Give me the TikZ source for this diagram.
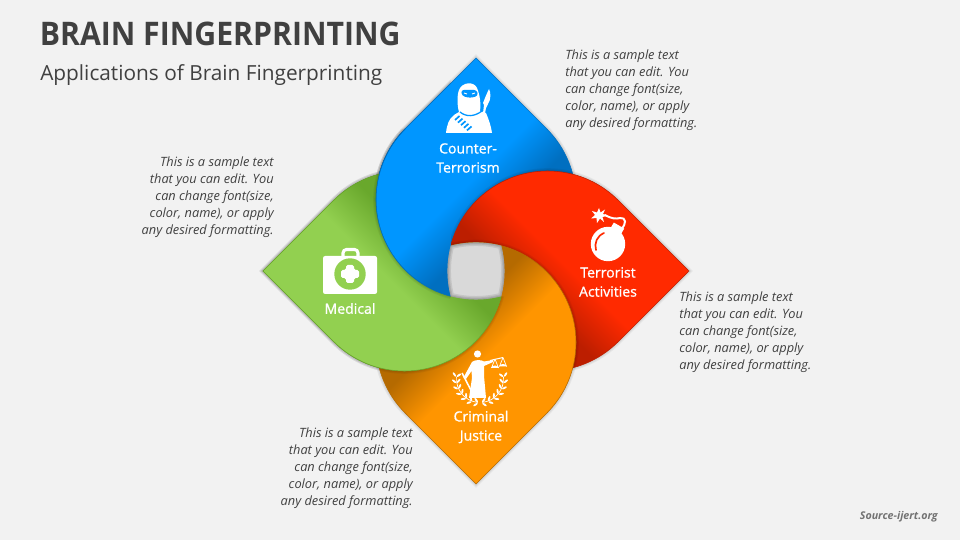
\documentclass[tikz,border=0pt]{standalone}
\usepackage{fontspec}
\usepackage{tikz}
\usepackage{xcolor}
\setmainfont{Open Sans}
\newfontfamily\titlefont[FakeStretch=0.93]{Open Sans}
\newfontfamily\labelfont[FakeBold=1]{Open Sans}
\definecolor{pagebg}{HTML}{F2F2F2}
\definecolor{inktext}{HTML}{404040}
\definecolor{blueA}{HTML}{0096FF}
\definecolor{blueB}{HTML}{006FC0}
\definecolor{redA}{HTML}{FF2A00}
\definecolor{redB}{HTML}{BC1E00}
\definecolor{orangeA}{HTML}{FF9500}
\definecolor{orangeB}{HTML}{B56A00}
\definecolor{greenA}{HTML}{92D050}
\definecolor{greenB}{HTML}{69A82C}
\pgfdeclarehorizontalshading{blueshade}{100bp}{color(0bp)=(blueA); color(42bp)=(blueA); color(47.5bp)=(blueB); color(100bp)=(blueB)}
\pgfdeclarehorizontalshading{redshade}{100bp}{color(0bp)=(redA); color(42bp)=(redA); color(47.5bp)=(redB); color(100bp)=(redB)}
\pgfdeclarehorizontalshading{orangeshade}{100bp}{color(0bp)=(orangeA); color(42bp)=(orangeA); color(47.5bp)=(orangeB); color(100bp)=(orangeB)}
\pgfdeclarehorizontalshading{greenshade}{100bp}{color(0bp)=(greenA); color(42bp)=(greenA); color(47.5bp)=(greenB); color(100bp)=(greenB)}
\newcommand{\petaloutline}{(0,213) -- (70.7,142.2) arc[start angle=45,end angle=-225,radius=100] -- cycle}
\newcommand{\windowoutline}{(-25.3,25.3) arc[start angle=104.65,end angle=75.35,radius=100]
	arc[start angle=14.65,end angle=-14.65,radius=100]
	arc[start angle=-75.35,end angle=-104.65,radius=100]
	arc[start angle=-165.35,end angle=-194.65,radius=100] -- cycle}
% #1 rotation, #2 shading, #3 shading angle, #4 edge colour
\newcommand{\petal}[4]{
	\foreach \w in {4,2.5,1}
		\draw[shift={(476,269)},rotate=#1,black,opacity=0.05,line width=\w] \petaloutline;
	\begin{scope}
		\clip[shift={(476,269)},rotate=#1] \petaloutline;
		\shade[shading=#2,shading angle=#3] (264,57) rectangle (688,481);
	\end{scope}
	\draw[shift={(476,269)},rotate=#1,#4,line width=0.4pt] \petaloutline;
}
\tikzset{
	sample/.style={text=inktext,inner sep=0pt,font=\fontsize{9.1}{12}\selectfont\itshape},
	petallabel/.style={text=white,align=center,font=\labelfont\fontsize{10}{13.6}\selectfont},
}
\begin{document}
\begin{tikzpicture}[x=0.025cm,y=0.025cm]
	\useasboundingbox (0,0) rectangle (960,540);
	\fill[pagebg] (0,0) rectangle (960,540);
	% the four petals, blue and green go twice because the overlap runs round in a ring
	\petal{90}{greenshade}{45}{greenB}
	\petal{0}{blueshade}{-45}{blueB}
	\petal{-90}{redshade}{225}{redB}
	\petal{180}{orangeshade}{135}{orangeB}
	\begin{scope}
		\clip (100,100) rectangle (450.7,520);
		\petal{0}{blueshade}{-45}{blueB}
	\end{scope}
	\begin{scope}
		\clip[shift={(476,269)}] (-25.3,-25.3) arc[start angle=255.35,end angle=135,radius=100] -- (-300,142.2) -- (-300,-300) -- (30,-300) -- (30,-25.3) -- cycle;
		\petal{90}{greenshade}{45}{greenB}
		\foreach \w in {4,2.5,1}
			\draw[shift={(476,269)},black,opacity=0.05,line width=\w] (-25.3,-25.3) arc[start angle=255.35,end angle=135,radius=100];
	\end{scope}
	\draw[shift={(476,269)},blueB,line width=0.4pt] (-25.3,-25.3) arc[start angle=255.35,end angle=135,radius=100];
	% centre window
	\begin{scope}[shift={(476,269)}]
		\fill[black!15] \windowoutline;
		\clip \windowoutline;
		\foreach \w in {5,3,1.5}
			\draw[black,opacity=0.09,line width=\w] \windowoutline;
	\end{scope}
	% icons, in screen pixels
	\begin{scope}[shift={(0,540)},yscale=-1]
		% medical kit
		\fill[white,rounded corners=1.5] (323,256) rectangle (377,294);
		\draw[white,line width=2.2pt,rounded corners=2.5] (343,257) -- (343,249.5) -- (358,249.5) -- (358,257);
		\fill[greenA] (350,274) circle (15.7);
		\fill[white,rounded corners=1.2] (346,265) -- (354,265) -- (354,270) -- (359,270) -- (359,278) -- (354,278) -- (354,283) -- (346,283) -- (346,278) -- (341,278) -- (341,270) -- (346,270) -- cycle;
		% masked man
		\fill[white] (446,133) .. controls (447,124) and (449,119) .. (454,115) -- (459,112)
			.. controls (457,105) and (457,95) .. (459,90) .. controls (462,82) and (474,81) .. (477,88)
			.. controls (480,95) and (481,104) .. (480,111) -- (486,113) .. controls (489,120) and (491,126) .. (492,133) -- cycle;
		\fill[white] (489,89) .. controls (491,92) and (491,100) .. (488,104) -- (486,108) -- (485,113) -- (483,113) -- (484,105) -- (483,103) .. controls (485,98) and (487,93) .. (489,89) -- cycle;
		\fill[blueA,rounded corners=2] (461,90) -- (477,90) -- (478,96) -- (470,98) -- (462,96) -- cycle;
		\draw[white,line width=0.6pt] (464,93) -- (467,94) (472,94) -- (475,93);
		\draw[blueA,line width=0.9pt] (460,112) .. controls (466,117) and (474,117) .. (482,111);
		\foreach \k in {0,1,2,3,4}
			\draw[blueA,line width=1.2pt] (455+\k*3,120+\k*2.6) -- (459.5+\k*3,116+\k*2.6);
		% bomb
		\fill[white] (608,244) circle (17.2);
		\fill[white,rotate around={30:(617,229)}] (611,225) rectangle (623,233);
		\draw[white,line width=1.4pt,line cap=round] (621,229) .. controls (627,224) and (626,217) .. (620,218) .. controls (616,219) and (612,219) .. (605,215);
		\fill[white] (599,208) -- (600.5,212.5) -- (605,209.5) -- (603,214) -- (607,216) -- (602.5,217) -- (604,222) -- (600,218.5) -- (597,223) -- (596.5,218) -- (591,218.5) -- (595,215) -- (592,211) -- (597,212.5) -- cycle;
		\draw[redA,line width=1.2pt,line cap=round] (596,250) .. controls (594,243) and (597,236) .. (604,233);
		% justice statue
		\fill[white] (477.5,354) circle (3.6);
		\fill[white] (472,362) .. controls (475,359.5) and (481,359.5) .. (484,361.5) -- (493,360) -- (493,362) -- (484,366) -- (484,376) -- (486,398) -- (469,398) -- (472,378) -- (471.5,371) -- (466,379) -- (463.5,377.5) -- cycle;
		\draw[white,line width=1.1pt] (462,373) -- (475,398);
		\draw[white,line width=0.7pt] (490,360.5) -- (503,357.5);
		\draw[white,line width=0.5pt] (495,359) -- (491.5,368) (495,359) -- (498.5,368) (503,357.5) -- (499.5,366.5) (503,357.5) -- (506.5,366.5);
		\fill[white] (491,368) arc[start angle=180,end angle=360,x radius=4,y radius=2.5] -- cycle;
		\fill[white] (499,366.5) arc[start angle=180,end angle=360,x radius=4,y radius=2.5] -- cycle;
		\draw[white,line width=0.5pt] (480,379) +(95:23.5) arc[start angle=95,end angle=185,radius=23.5];
		\draw[white,line width=0.5pt] (480,379) +(85:23.5) arc[start angle=85,end angle=-5,radius=23.5];
		\foreach \a in {100,115,...,190} {
			\fill[white,shift={(480,379)},rotate=\a,shift={(26,0)},rotate=45] (0,0) ellipse (2.6 and 1);
			\fill[white,shift={(480,379)},rotate=\a,shift={(21.5,0)},rotate=-45] (0,0) ellipse (2.6 and 1);
		}
		\foreach \a in {80,65,...,-10} {
			\fill[white,shift={(480,379)},rotate=\a,shift={(26,0)},rotate=-45] (0,0) ellipse (2.6 and 1);
			\fill[white,shift={(480,379)},rotate=\a,shift={(21.5,0)},rotate=45] (0,0) ellipse (2.6 and 1);
		}
	\end{scope}
	\node (title) [anchor=west,inner sep=0pt,text=inktext,font=\titlefont\fontsize{23.1}{28}\selectfont\bfseries] at (39.5,506) {BRAIN FINGERPRINTING};
	\node (subtitle) [anchor=west,inner sep=0pt,text=inktext,font=\fontsize{14.8}{18}\selectfont] at (40,464.5) {Applications of Brain Fingerprinting};
	\node (counter) [petallabel] at (468,382) {Counter-\\Terrorism};
	\node (terrorist) [petallabel] at (608,258) {Terrorist\\Activities};
	\node (medical) [petallabel] at (350,231.5) {Medical};
	\node (criminal) [petallabel] at (481,113) {Criminal\\Justice};
	\node (sampletop) [sample,anchor=west,align=left] at (565,450) {This is a sample text\\that you can edit. You\\can change font(size,\\color, name), or apply\\any desired formatting.};
	\node (sampleleft) [sample,anchor=east,align=right] at (274,343) {This is a sample text\\that you can edit. You\\can change font(size,\\color, name), or apply\\any desired formatting.};
	\node (sampleright) [sample,anchor=west,align=left] at (679,208) {This is a sample text\\that you can edit. You\\can change font(size,\\color, name), or apply\\any desired formatting.};
	\node (samplebottom) [sample,anchor=east,align=right] at (413,72) {This is a sample text\\that you can edit. You\\can change font(size,\\color, name), or apply\\any desired formatting.};
	\node (source) [anchor=east,inner sep=0pt,text=black!55,font=\fontsize{7.6}{9}\selectfont\bfseries\itshape] at (938,23) {Source-ijert.org};
\end{tikzpicture}
\end{document}
